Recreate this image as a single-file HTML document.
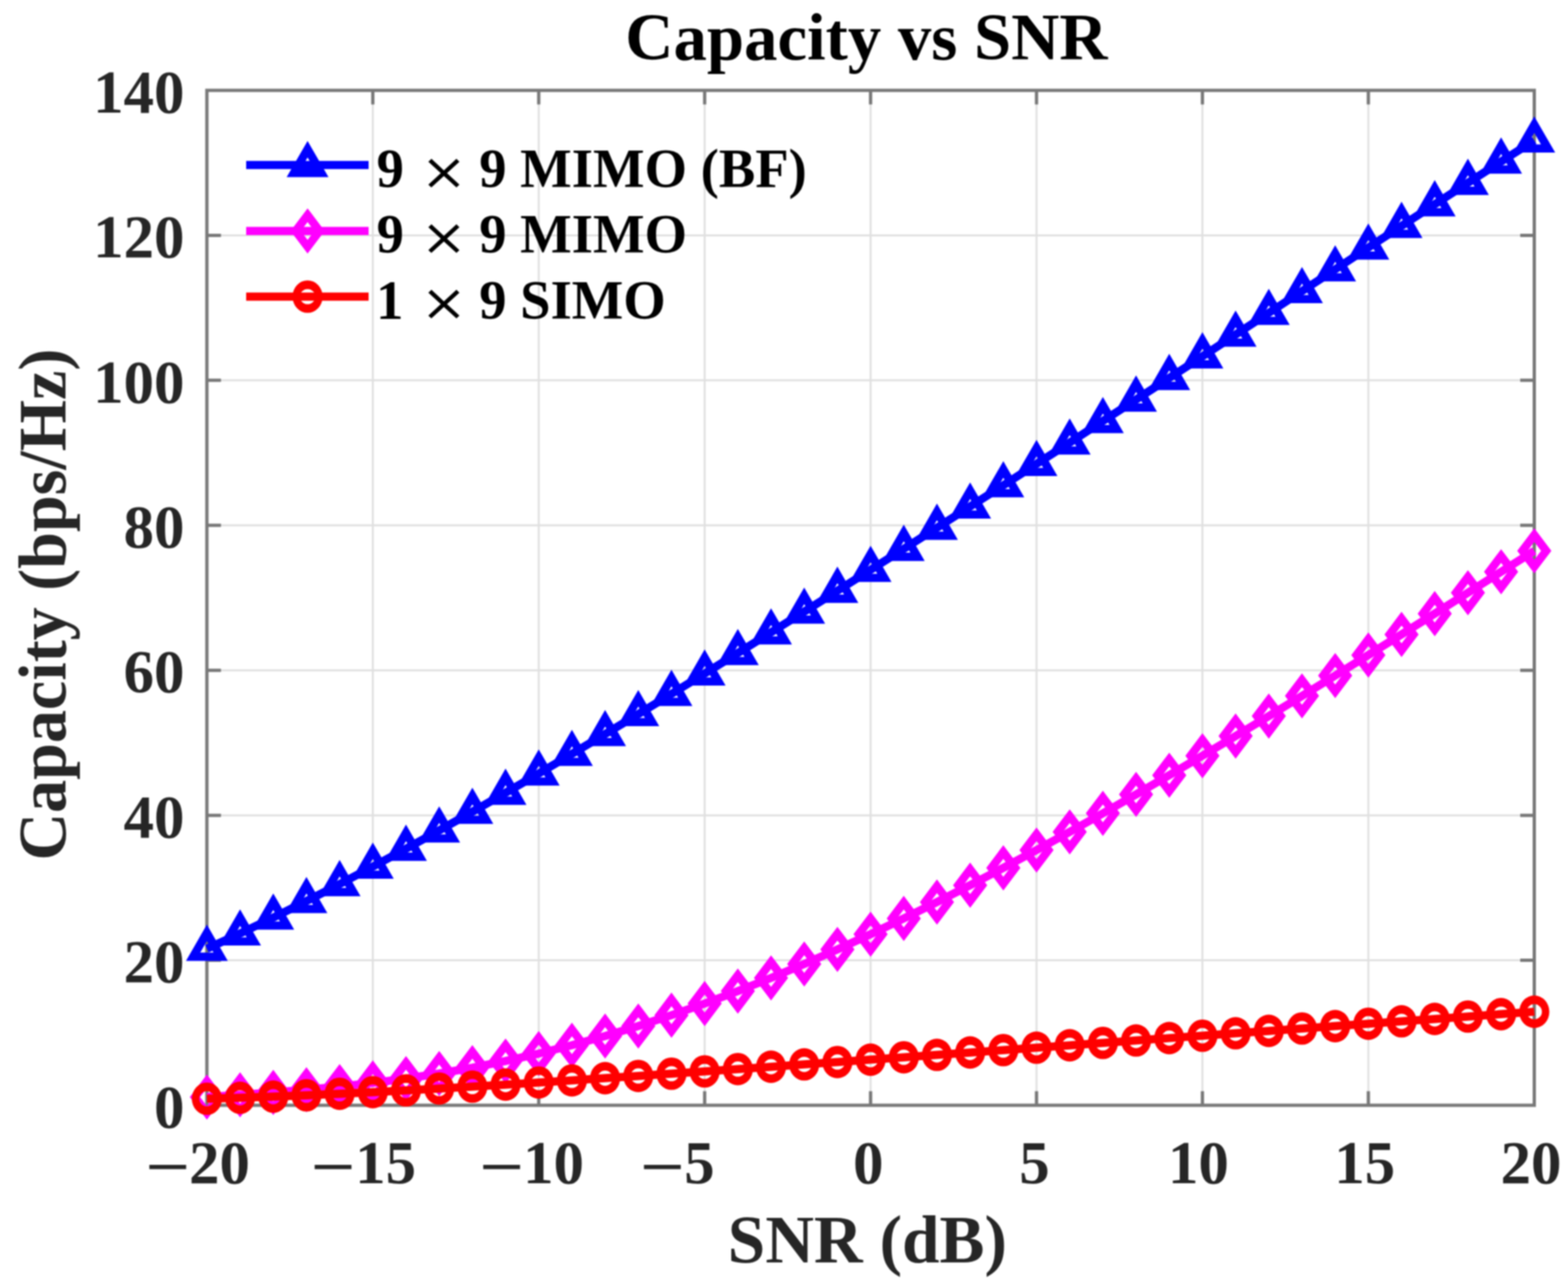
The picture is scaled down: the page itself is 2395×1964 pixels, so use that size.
<!DOCTYPE html>
<html><head><meta charset="utf-8"><title>Capacity vs SNR</title>
<style>html,body{margin:0;padding:0;background:#fff;}body{width:2395px;height:1964px;overflow:hidden;}svg{display:block;filter:blur(1px);}</style>
</head><body>
<svg width="2395" height="1964" viewBox="0 0 2395 1964">
<rect width="2395" height="1964" fill="#fff"/>
<path d="M316.00,138.0V1688.0M569.44,138.0V1688.0M822.88,138.0V1688.0M1076.31,138.0V1688.0M1329.75,138.0V1688.0M1583.19,138.0V1688.0M1836.62,138.0V1688.0M2090.06,138.0V1688.0M2343.50,138.0V1688.0M316.0,1688.00H2343.5M316.0,1466.57H2343.5M316.0,1245.14H2343.5M316.0,1023.71H2343.5M316.0,802.29H2343.5M316.0,580.86H2343.5M316.0,359.43H2343.5M316.0,138.00H2343.5" stroke="#e0e0e0" stroke-width="3" fill="none"/>
<path d="M316.0,138.0H2343.5V1688.0H316.0ZM316.00,1688.0v-19M316.00,138.0v19M569.44,1688.0v-19M569.44,138.0v19M822.88,1688.0v-19M822.88,138.0v19M1076.31,1688.0v-19M1076.31,138.0v19M1329.75,1688.0v-19M1329.75,138.0v19M1583.19,1688.0v-19M1583.19,138.0v19M1836.62,1688.0v-19M1836.62,138.0v19M2090.06,1688.0v-19M2090.06,138.0v19M2343.50,1688.0v-19M2343.50,138.0v19M316.0,1688.00h19M2343.5,1688.00h-19M316.0,1466.57h19M2343.5,1466.57h-19M316.0,1245.14h19M2343.5,1245.14h-19M316.0,1023.71h19M2343.5,1023.71h-19M316.0,802.29h19M2343.5,802.29h-19M316.0,580.86h19M2343.5,580.86h-19M316.0,359.43h19M2343.5,359.43h-19M316.0,138.00h19M2343.5,138.00h-19" stroke="#787878" stroke-width="5" fill="none" stroke-linejoin="miter" stroke-linecap="square"/>
<polyline points="316.00,1449.02 366.69,1425.61 417.38,1401.30 468.06,1376.16 518.75,1350.23 569.44,1323.57 620.12,1296.24 670.81,1268.29 721.50,1239.79 772.19,1210.77 822.88,1181.30 873.56,1151.42 924.25,1121.17 974.94,1090.61 1025.62,1059.75 1076.31,1028.65 1127.00,997.33 1177.69,965.81 1228.38,934.12 1279.06,902.27 1329.75,870.29 1380.44,838.18 1431.12,805.94 1481.81,773.59 1532.50,741.14 1583.19,708.57 1633.88,675.90 1684.56,643.12 1735.25,610.25 1785.94,577.27 1836.62,544.21 1887.31,511.07 1938.00,477.87 1988.69,444.62 2039.38,411.37 2090.06,378.14 2140.75,345.00 2191.44,311.99 2242.12,279.19 2292.81,246.69 2343.50,214.59" fill="none" stroke="#0000ff" stroke-width="12.5" stroke-linejoin="round"/>
<path d="M316.00,1424.72L337.04,1461.17L294.96,1461.17ZM366.69,1401.31L387.73,1437.76L345.64,1437.76ZM417.38,1377.00L438.42,1413.45L396.33,1413.45ZM468.06,1351.86L489.11,1388.31L447.02,1388.31ZM518.75,1325.93L539.79,1362.38L497.71,1362.38ZM569.44,1299.27L590.48,1335.72L548.39,1335.72ZM620.12,1271.94L641.17,1308.39L599.08,1308.39ZM670.81,1243.99L691.86,1280.44L649.77,1280.44ZM721.50,1215.49L742.54,1251.94L700.46,1251.94ZM772.19,1186.47L793.23,1222.92L751.14,1222.92ZM822.88,1157.00L843.92,1193.45L801.83,1193.45ZM873.56,1127.12L894.61,1163.57L852.52,1163.57ZM924.25,1096.87L945.29,1133.32L903.21,1133.32ZM974.94,1066.31L995.98,1102.76L953.89,1102.76ZM1025.62,1035.45L1046.67,1071.90L1004.58,1071.90ZM1076.31,1004.35L1097.36,1040.80L1055.27,1040.80ZM1127.00,973.03L1148.04,1009.48L1105.96,1009.48ZM1177.69,941.51L1198.73,977.96L1156.64,977.96ZM1228.38,909.82L1249.42,946.27L1207.33,946.27ZM1279.06,877.97L1300.11,914.42L1258.02,914.42ZM1329.75,845.99L1350.79,882.44L1308.71,882.44ZM1380.44,813.88L1401.48,850.33L1359.39,850.33ZM1431.12,781.64L1452.17,818.09L1410.08,818.09ZM1481.81,749.29L1502.86,785.74L1460.77,785.74ZM1532.50,716.84L1553.54,753.29L1511.46,753.29ZM1583.19,684.27L1604.23,720.72L1562.14,720.72ZM1633.88,651.60L1654.92,688.05L1612.83,688.05ZM1684.56,618.82L1705.61,655.27L1663.52,655.27ZM1735.25,585.95L1756.29,622.40L1714.21,622.40ZM1785.94,552.97L1806.98,589.42L1764.89,589.42ZM1836.62,519.91L1857.67,556.36L1815.58,556.36ZM1887.31,486.77L1908.36,523.22L1866.27,523.22ZM1938.00,453.57L1959.04,490.02L1916.96,490.02ZM1988.69,420.32L2009.73,456.77L1967.64,456.77ZM2039.38,387.07L2060.42,423.52L2018.33,423.52ZM2090.06,353.84L2111.11,390.29L2069.02,390.29ZM2140.75,320.70L2161.79,357.15L2119.71,357.15ZM2191.44,287.69L2212.48,324.14L2170.39,324.14ZM2242.12,254.89L2263.17,291.34L2221.08,291.34ZM2292.81,222.39L2313.86,258.84L2271.77,258.84ZM2343.50,190.29L2364.54,226.74L2322.46,226.74Z" fill="none" stroke="#0000ff" stroke-width="12.6" stroke-linejoin="miter" stroke-miterlimit="10"/>
<polyline points="316.00,1675.50 366.69,1672.07 417.38,1668.42 468.06,1664.30 518.75,1659.50 569.44,1653.86 620.12,1647.23 670.81,1639.50 721.50,1630.59 772.19,1620.45 822.88,1609.03 873.56,1596.31 924.25,1582.29 974.94,1566.98 1025.62,1550.41 1076.31,1532.61 1127.00,1513.61 1177.69,1493.48 1228.38,1472.25 1279.06,1450.00 1329.75,1426.78 1380.44,1402.64 1431.12,1377.66 1481.81,1351.90 1532.50,1325.40 1583.19,1298.24 1633.88,1270.46 1684.56,1242.12 1735.25,1213.27 1785.94,1183.95 1836.62,1154.21 1887.31,1124.08 1938.00,1093.60 1988.69,1062.81 2039.38,1031.74 2090.06,1000.42 2140.75,968.88 2191.44,937.15 2242.12,905.26 2292.81,873.26 2343.50,841.18" fill="none" stroke="#ff00ff" stroke-width="12.5" stroke-linejoin="round"/>
<path d="M316.00,1651.40L334.20,1675.50L316.00,1699.60L297.80,1675.50ZM366.69,1647.97L384.89,1672.07L366.69,1696.17L348.49,1672.07ZM417.38,1644.32L435.57,1668.42L417.38,1692.52L399.18,1668.42ZM468.06,1640.20L486.26,1664.30L468.06,1688.40L449.86,1664.30ZM518.75,1635.40L536.95,1659.50L518.75,1683.60L500.55,1659.50ZM569.44,1629.76L587.64,1653.86L569.44,1677.96L551.24,1653.86ZM620.12,1623.13L638.33,1647.23L620.12,1671.33L601.92,1647.23ZM670.81,1615.40L689.01,1639.50L670.81,1663.60L652.61,1639.50ZM721.50,1606.49L739.70,1630.59L721.50,1654.69L703.30,1630.59ZM772.19,1596.35L790.39,1620.45L772.19,1644.55L753.99,1620.45ZM822.88,1584.93L841.08,1609.03L822.88,1633.13L804.67,1609.03ZM873.56,1572.21L891.76,1596.31L873.56,1620.41L855.36,1596.31ZM924.25,1558.19L942.45,1582.29L924.25,1606.39L906.05,1582.29ZM974.94,1542.88L993.14,1566.98L974.94,1591.08L956.74,1566.98ZM1025.62,1526.31L1043.83,1550.41L1025.62,1574.51L1007.42,1550.41ZM1076.31,1508.51L1094.51,1532.61L1076.31,1556.71L1058.11,1532.61ZM1127.00,1489.51L1145.20,1513.61L1127.00,1537.71L1108.80,1513.61ZM1177.69,1469.38L1195.89,1493.48L1177.69,1517.58L1159.49,1493.48ZM1228.38,1448.15L1246.58,1472.25L1228.38,1496.35L1210.17,1472.25ZM1279.06,1425.90L1297.26,1450.00L1279.06,1474.10L1260.86,1450.00ZM1329.75,1402.68L1347.95,1426.78L1329.75,1450.88L1311.55,1426.78ZM1380.44,1378.54L1398.64,1402.64L1380.44,1426.74L1362.24,1402.64ZM1431.12,1353.56L1449.33,1377.66L1431.12,1401.76L1412.92,1377.66ZM1481.81,1327.80L1500.01,1351.90L1481.81,1376.00L1463.61,1351.90ZM1532.50,1301.30L1550.70,1325.40L1532.50,1349.50L1514.30,1325.40ZM1583.19,1274.14L1601.39,1298.24L1583.19,1322.34L1564.99,1298.24ZM1633.88,1246.36L1652.08,1270.46L1633.88,1294.56L1615.67,1270.46ZM1684.56,1218.02L1702.76,1242.12L1684.56,1266.22L1666.36,1242.12ZM1735.25,1189.17L1753.45,1213.27L1735.25,1237.37L1717.05,1213.27ZM1785.94,1159.85L1804.14,1183.95L1785.94,1208.05L1767.74,1183.95ZM1836.62,1130.11L1854.83,1154.21L1836.62,1178.31L1818.42,1154.21ZM1887.31,1099.98L1905.51,1124.08L1887.31,1148.18L1869.11,1124.08ZM1938.00,1069.50L1956.20,1093.60L1938.00,1117.70L1919.80,1093.60ZM1988.69,1038.71L2006.89,1062.81L1988.69,1086.91L1970.49,1062.81ZM2039.38,1007.64L2057.57,1031.74L2039.38,1055.84L2021.17,1031.74ZM2090.06,976.32L2108.26,1000.42L2090.06,1024.52L2071.86,1000.42ZM2140.75,944.78L2158.95,968.88L2140.75,992.98L2122.55,968.88ZM2191.44,913.05L2209.64,937.15L2191.44,961.25L2173.24,937.15ZM2242.12,881.16L2260.32,905.26L2242.12,929.36L2223.93,905.26ZM2292.81,849.16L2311.01,873.26L2292.81,897.36L2274.61,873.26ZM2343.50,817.08L2361.70,841.18L2343.50,865.28L2325.30,841.18Z" fill="none" stroke="#ff00ff" stroke-width="12.6" stroke-linejoin="miter" stroke-miterlimit="10"/>
<polyline points="316.00,1678.01 366.69,1676.56 417.38,1674.79 468.06,1672.75 518.75,1670.46 569.44,1667.96 620.12,1665.28 670.81,1662.45 721.50,1659.47 772.19,1656.39 822.88,1653.20 873.56,1649.93 924.25,1646.59 974.94,1643.19 1025.62,1639.74 1076.31,1636.24 1127.00,1632.71 1177.69,1629.15 1228.38,1625.56 1279.06,1621.96 1329.75,1618.34 1380.44,1614.70 1431.12,1611.05 1481.81,1607.40 1532.50,1603.73 1583.19,1600.07 1633.88,1596.40 1684.56,1592.73 1735.25,1589.06 1785.94,1585.39 1836.62,1581.73 1887.31,1578.07 1938.00,1574.41 1988.69,1570.75 2039.38,1567.10 2090.06,1563.45 2140.75,1559.80 2191.44,1556.15 2242.12,1552.49 2292.81,1548.83 2343.50,1545.14" fill="none" stroke="#ff0000" stroke-width="12.5" stroke-linejoin="round"/>
<path d="M293.00,1678.01a23.0,24.8 0 1,0 46.0,0a23.0,24.8 0 1,0 -46.0,0ZM304.40,1678.01a11.6,11.6 0 1,0 23.2,0a11.6,11.6 0 1,0 -23.2,0ZM343.69,1676.56a23.0,24.8 0 1,0 46.0,0a23.0,24.8 0 1,0 -46.0,0ZM355.09,1676.56a11.6,11.6 0 1,0 23.2,0a11.6,11.6 0 1,0 -23.2,0ZM394.38,1674.79a23.0,24.8 0 1,0 46.0,0a23.0,24.8 0 1,0 -46.0,0ZM405.77,1674.79a11.6,11.6 0 1,0 23.2,0a11.6,11.6 0 1,0 -23.2,0ZM445.06,1672.75a23.0,24.8 0 1,0 46.0,0a23.0,24.8 0 1,0 -46.0,0ZM456.46,1672.75a11.6,11.6 0 1,0 23.2,0a11.6,11.6 0 1,0 -23.2,0ZM495.75,1670.46a23.0,24.8 0 1,0 46.0,0a23.0,24.8 0 1,0 -46.0,0ZM507.15,1670.46a11.6,11.6 0 1,0 23.2,0a11.6,11.6 0 1,0 -23.2,0ZM546.44,1667.96a23.0,24.8 0 1,0 46.0,0a23.0,24.8 0 1,0 -46.0,0ZM557.84,1667.96a11.6,11.6 0 1,0 23.2,0a11.6,11.6 0 1,0 -23.2,0ZM597.12,1665.28a23.0,24.8 0 1,0 46.0,0a23.0,24.8 0 1,0 -46.0,0ZM608.52,1665.28a11.6,11.6 0 1,0 23.2,0a11.6,11.6 0 1,0 -23.2,0ZM647.81,1662.45a23.0,24.8 0 1,0 46.0,0a23.0,24.8 0 1,0 -46.0,0ZM659.21,1662.45a11.6,11.6 0 1,0 23.2,0a11.6,11.6 0 1,0 -23.2,0ZM698.50,1659.47a23.0,24.8 0 1,0 46.0,0a23.0,24.8 0 1,0 -46.0,0ZM709.90,1659.47a11.6,11.6 0 1,0 23.2,0a11.6,11.6 0 1,0 -23.2,0ZM749.19,1656.39a23.0,24.8 0 1,0 46.0,0a23.0,24.8 0 1,0 -46.0,0ZM760.59,1656.39a11.6,11.6 0 1,0 23.2,0a11.6,11.6 0 1,0 -23.2,0ZM799.88,1653.20a23.0,24.8 0 1,0 46.0,0a23.0,24.8 0 1,0 -46.0,0ZM811.27,1653.20a11.6,11.6 0 1,0 23.2,0a11.6,11.6 0 1,0 -23.2,0ZM850.56,1649.93a23.0,24.8 0 1,0 46.0,0a23.0,24.8 0 1,0 -46.0,0ZM861.96,1649.93a11.6,11.6 0 1,0 23.2,0a11.6,11.6 0 1,0 -23.2,0ZM901.25,1646.59a23.0,24.8 0 1,0 46.0,0a23.0,24.8 0 1,0 -46.0,0ZM912.65,1646.59a11.6,11.6 0 1,0 23.2,0a11.6,11.6 0 1,0 -23.2,0ZM951.94,1643.19a23.0,24.8 0 1,0 46.0,0a23.0,24.8 0 1,0 -46.0,0ZM963.34,1643.19a11.6,11.6 0 1,0 23.2,0a11.6,11.6 0 1,0 -23.2,0ZM1002.62,1639.74a23.0,24.8 0 1,0 46.0,0a23.0,24.8 0 1,0 -46.0,0ZM1014.02,1639.74a11.6,11.6 0 1,0 23.2,0a11.6,11.6 0 1,0 -23.2,0ZM1053.31,1636.24a23.0,24.8 0 1,0 46.0,0a23.0,24.8 0 1,0 -46.0,0ZM1064.71,1636.24a11.6,11.6 0 1,0 23.2,0a11.6,11.6 0 1,0 -23.2,0ZM1104.00,1632.71a23.0,24.8 0 1,0 46.0,0a23.0,24.8 0 1,0 -46.0,0ZM1115.40,1632.71a11.6,11.6 0 1,0 23.2,0a11.6,11.6 0 1,0 -23.2,0ZM1154.69,1629.15a23.0,24.8 0 1,0 46.0,0a23.0,24.8 0 1,0 -46.0,0ZM1166.09,1629.15a11.6,11.6 0 1,0 23.2,0a11.6,11.6 0 1,0 -23.2,0ZM1205.38,1625.56a23.0,24.8 0 1,0 46.0,0a23.0,24.8 0 1,0 -46.0,0ZM1216.78,1625.56a11.6,11.6 0 1,0 23.2,0a11.6,11.6 0 1,0 -23.2,0ZM1256.06,1621.96a23.0,24.8 0 1,0 46.0,0a23.0,24.8 0 1,0 -46.0,0ZM1267.46,1621.96a11.6,11.6 0 1,0 23.2,0a11.6,11.6 0 1,0 -23.2,0ZM1306.75,1618.34a23.0,24.8 0 1,0 46.0,0a23.0,24.8 0 1,0 -46.0,0ZM1318.15,1618.34a11.6,11.6 0 1,0 23.2,0a11.6,11.6 0 1,0 -23.2,0ZM1357.44,1614.70a23.0,24.8 0 1,0 46.0,0a23.0,24.8 0 1,0 -46.0,0ZM1368.84,1614.70a11.6,11.6 0 1,0 23.2,0a11.6,11.6 0 1,0 -23.2,0ZM1408.12,1611.05a23.0,24.8 0 1,0 46.0,0a23.0,24.8 0 1,0 -46.0,0ZM1419.53,1611.05a11.6,11.6 0 1,0 23.2,0a11.6,11.6 0 1,0 -23.2,0ZM1458.81,1607.40a23.0,24.8 0 1,0 46.0,0a23.0,24.8 0 1,0 -46.0,0ZM1470.21,1607.40a11.6,11.6 0 1,0 23.2,0a11.6,11.6 0 1,0 -23.2,0ZM1509.50,1603.73a23.0,24.8 0 1,0 46.0,0a23.0,24.8 0 1,0 -46.0,0ZM1520.90,1603.73a11.6,11.6 0 1,0 23.2,0a11.6,11.6 0 1,0 -23.2,0ZM1560.19,1600.07a23.0,24.8 0 1,0 46.0,0a23.0,24.8 0 1,0 -46.0,0ZM1571.59,1600.07a11.6,11.6 0 1,0 23.2,0a11.6,11.6 0 1,0 -23.2,0ZM1610.88,1596.40a23.0,24.8 0 1,0 46.0,0a23.0,24.8 0 1,0 -46.0,0ZM1622.28,1596.40a11.6,11.6 0 1,0 23.2,0a11.6,11.6 0 1,0 -23.2,0ZM1661.56,1592.73a23.0,24.8 0 1,0 46.0,0a23.0,24.8 0 1,0 -46.0,0ZM1672.96,1592.73a11.6,11.6 0 1,0 23.2,0a11.6,11.6 0 1,0 -23.2,0ZM1712.25,1589.06a23.0,24.8 0 1,0 46.0,0a23.0,24.8 0 1,0 -46.0,0ZM1723.65,1589.06a11.6,11.6 0 1,0 23.2,0a11.6,11.6 0 1,0 -23.2,0ZM1762.94,1585.39a23.0,24.8 0 1,0 46.0,0a23.0,24.8 0 1,0 -46.0,0ZM1774.34,1585.39a11.6,11.6 0 1,0 23.2,0a11.6,11.6 0 1,0 -23.2,0ZM1813.62,1581.73a23.0,24.8 0 1,0 46.0,0a23.0,24.8 0 1,0 -46.0,0ZM1825.03,1581.73a11.6,11.6 0 1,0 23.2,0a11.6,11.6 0 1,0 -23.2,0ZM1864.31,1578.07a23.0,24.8 0 1,0 46.0,0a23.0,24.8 0 1,0 -46.0,0ZM1875.71,1578.07a11.6,11.6 0 1,0 23.2,0a11.6,11.6 0 1,0 -23.2,0ZM1915.00,1574.41a23.0,24.8 0 1,0 46.0,0a23.0,24.8 0 1,0 -46.0,0ZM1926.40,1574.41a11.6,11.6 0 1,0 23.2,0a11.6,11.6 0 1,0 -23.2,0ZM1965.69,1570.75a23.0,24.8 0 1,0 46.0,0a23.0,24.8 0 1,0 -46.0,0ZM1977.09,1570.75a11.6,11.6 0 1,0 23.2,0a11.6,11.6 0 1,0 -23.2,0ZM2016.38,1567.10a23.0,24.8 0 1,0 46.0,0a23.0,24.8 0 1,0 -46.0,0ZM2027.78,1567.10a11.6,11.6 0 1,0 23.2,0a11.6,11.6 0 1,0 -23.2,0ZM2067.06,1563.45a23.0,24.8 0 1,0 46.0,0a23.0,24.8 0 1,0 -46.0,0ZM2078.46,1563.45a11.6,11.6 0 1,0 23.2,0a11.6,11.6 0 1,0 -23.2,0ZM2117.75,1559.80a23.0,24.8 0 1,0 46.0,0a23.0,24.8 0 1,0 -46.0,0ZM2129.15,1559.80a11.6,11.6 0 1,0 23.2,0a11.6,11.6 0 1,0 -23.2,0ZM2168.44,1556.15a23.0,24.8 0 1,0 46.0,0a23.0,24.8 0 1,0 -46.0,0ZM2179.84,1556.15a11.6,11.6 0 1,0 23.2,0a11.6,11.6 0 1,0 -23.2,0ZM2219.12,1552.49a23.0,24.8 0 1,0 46.0,0a23.0,24.8 0 1,0 -46.0,0ZM2230.53,1552.49a11.6,11.6 0 1,0 23.2,0a11.6,11.6 0 1,0 -23.2,0ZM2269.81,1548.83a23.0,24.8 0 1,0 46.0,0a23.0,24.8 0 1,0 -46.0,0ZM2281.21,1548.83a11.6,11.6 0 1,0 23.2,0a11.6,11.6 0 1,0 -23.2,0ZM2320.50,1545.14a23.0,24.8 0 1,0 46.0,0a23.0,24.8 0 1,0 -46.0,0ZM2331.90,1545.14a11.6,11.6 0 1,0 23.2,0a11.6,11.6 0 1,0 -23.2,0Z" fill="#ff0000" fill-rule="evenodd"/>
<path d="M376,252.1H563" stroke="#0000ff" stroke-width="12.5"/>
<path d="M469.80,227.80L490.84,264.25L448.76,264.25Z" fill="none" stroke="#0000ff" stroke-width="12.6" stroke-miterlimit="10"/>
<path d="M376,352.7H563" stroke="#ff00ff" stroke-width="12.5"/>
<path d="M469.80,328.60L488.00,352.70L469.80,376.80L451.60,352.70Z" fill="none" stroke="#ff00ff" stroke-width="12.6" stroke-miterlimit="10"/>
<path d="M376,453.0H563" stroke="#ff0000" stroke-width="12.5"/>
<path d="M446.80,453.00a23.0,24.8 0 1,0 46.0,0a23.0,24.8 0 1,0 -46.0,0ZM458.20,453.00a11.6,11.6 0 1,0 23.2,0a11.6,11.6 0 1,0 -23.2,0Z" fill="#ff0000" fill-rule="evenodd"/>
<text x="0" y="0" font-family="'Liberation Serif','Times New Roman',serif" font-weight="bold" font-size="85.5" fill="#000" transform="translate(575.30,286.2) scale(0.976,1)">9</text>
<text x="0" y="0" font-family="'Liberation Serif','Times New Roman',serif" font-size="104" fill="#000" stroke="#000" stroke-width="0.9" transform="translate(645.9,299.05) scale(1.09,1)">&#215;</text>
<text x="0" y="0" font-family="'Liberation Serif','Times New Roman',serif" font-weight="bold" font-size="85.5" fill="#000" xml:space="preserve" transform="translate(731.90,286.2) scale(0.976,1)">9 MIMO (BF)</text>
<text x="0" y="0" font-family="'Liberation Serif','Times New Roman',serif" font-weight="bold" font-size="85.5" fill="#000" transform="translate(575.30,386.4) scale(0.976,1)">9</text>
<text x="0" y="0" font-family="'Liberation Serif','Times New Roman',serif" font-size="104" fill="#000" stroke="#000" stroke-width="0.9" transform="translate(645.9,399.25) scale(1.09,1)">&#215;</text>
<text x="0" y="0" font-family="'Liberation Serif','Times New Roman',serif" font-weight="bold" font-size="85.5" fill="#000" xml:space="preserve" transform="translate(731.90,386.4) scale(0.976,1)">9 MIMO</text>
<text x="0" y="0" font-family="'Liberation Serif','Times New Roman',serif" font-weight="bold" font-size="85.5" fill="#000" transform="translate(574.52,486.6) scale(0.976,1)">1</text>
<text x="0" y="0" font-family="'Liberation Serif','Times New Roman',serif" font-size="104" fill="#000" stroke="#000" stroke-width="0.9" transform="translate(645.9,499.45) scale(1.09,1)">&#215;</text>
<text x="0" y="0" font-family="'Liberation Serif','Times New Roman',serif" font-weight="bold" font-size="85.5" fill="#000" xml:space="preserve" transform="translate(731.90,486.6) scale(0.976,1)">9 SIMO</text>
<text x="281.7" y="1721.7" font-family="'Liberation Serif','Times New Roman',serif" font-weight="bold" font-size="93.0" fill="#262626" text-anchor="end">0</text>
<text x="281.7" y="1500.3" font-family="'Liberation Serif','Times New Roman',serif" font-weight="bold" font-size="93.0" fill="#262626" text-anchor="end">20</text>
<text x="281.7" y="1278.8" font-family="'Liberation Serif','Times New Roman',serif" font-weight="bold" font-size="93.0" fill="#262626" text-anchor="end">40</text>
<text x="281.7" y="1057.4" font-family="'Liberation Serif','Times New Roman',serif" font-weight="bold" font-size="93.0" fill="#262626" text-anchor="end">60</text>
<text x="281.7" y="836.0" font-family="'Liberation Serif','Times New Roman',serif" font-weight="bold" font-size="93.0" fill="#262626" text-anchor="end">80</text>
<text x="281.7" y="614.6" font-family="'Liberation Serif','Times New Roman',serif" font-weight="bold" font-size="93.0" fill="#262626" text-anchor="end">100</text>
<text x="281.7" y="393.1" font-family="'Liberation Serif','Times New Roman',serif" font-weight="bold" font-size="93.0" fill="#262626" text-anchor="end">120</text>
<text x="281.7" y="171.7" font-family="'Liberation Serif','Times New Roman',serif" font-weight="bold" font-size="93.0" fill="#262626" text-anchor="end">140</text>
<text x="288.7" y="1807.3" font-family="'Liberation Serif','Times New Roman',serif" font-weight="bold" font-size="93.0" fill="#262626">20</text>
<text x="0" y="0" font-family="'Liberation Serif','Times New Roman',serif" font-weight="bold" font-size="93.0" fill="#262626" transform="translate(221.75,1813.2) scale(1.3,1)">&#8722;</text>
<text x="542.4" y="1807.3" font-family="'Liberation Serif','Times New Roman',serif" font-weight="bold" font-size="93.0" fill="#262626">15</text>
<text x="0" y="0" font-family="'Liberation Serif','Times New Roman',serif" font-weight="bold" font-size="93.0" fill="#262626" transform="translate(474.35,1813.2) scale(1.3,1)">&#8722;</text>
<text x="798.9" y="1807.3" font-family="'Liberation Serif','Times New Roman',serif" font-weight="bold" font-size="93.0" fill="#262626">10</text>
<text x="0" y="0" font-family="'Liberation Serif','Times New Roman',serif" font-weight="bold" font-size="93.0" fill="#262626" transform="translate(731.85,1813.2) scale(1.3,1)">&#8722;</text>
<text x="1045.1" y="1807.3" font-family="'Liberation Serif','Times New Roman',serif" font-weight="bold" font-size="93.0" fill="#262626">5</text>
<text x="0" y="0" font-family="'Liberation Serif','Times New Roman',serif" font-weight="bold" font-size="93.0" fill="#262626" transform="translate(977.35,1813.2) scale(1.3,1)">&#8722;</text>
<text x="1326.3" y="1807.3" font-family="'Liberation Serif','Times New Roman',serif" font-weight="bold" font-size="93.0" fill="#262626" text-anchor="middle">0</text>
<text x="1580.1" y="1807.3" font-family="'Liberation Serif','Times New Roman',serif" font-weight="bold" font-size="93.0" fill="#262626" text-anchor="middle">5</text>
<text x="1830.5" y="1807.3" font-family="'Liberation Serif','Times New Roman',serif" font-weight="bold" font-size="93.0" fill="#262626" text-anchor="middle">10</text>
<text x="2084.4" y="1807.3" font-family="'Liberation Serif','Times New Roman',serif" font-weight="bold" font-size="93.0" fill="#262626" text-anchor="middle">15</text>
<text x="2338.5" y="1807.3" font-family="'Liberation Serif','Times New Roman',serif" font-weight="bold" font-size="93.0" fill="#262626" text-anchor="middle">20</text>
<text x="1323.4" y="90.8" font-family="'Liberation Serif','Times New Roman',serif" font-weight="bold" font-size="102" fill="#000" text-anchor="middle">Capacity vs SNR</text>
<text x="1324.8" y="1927.8" font-family="'Liberation Serif','Times New Roman',serif" font-weight="bold" font-size="103" fill="#262626" text-anchor="middle">SNR (dB)</text>
<text x="0" y="0" font-family="'Liberation Serif','Times New Roman',serif" font-weight="bold" font-size="103.5" fill="#262626" text-anchor="middle" transform="translate(99.5,923.3) rotate(-90) scale(0.975,1)">Capacity (bps/Hz)</text>
</svg>
</body></html>
